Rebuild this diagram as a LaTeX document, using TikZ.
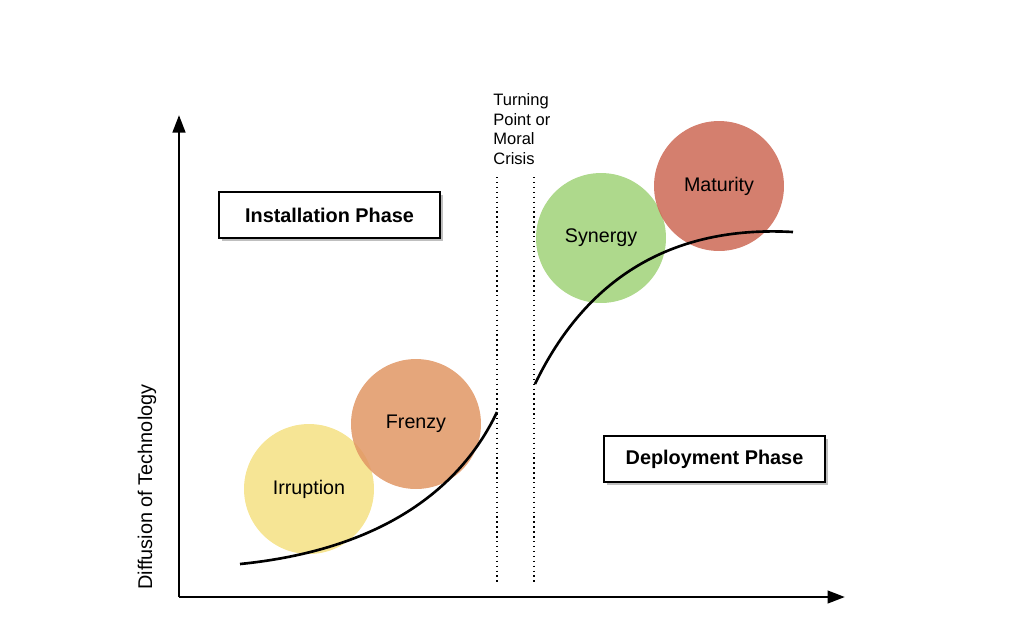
\documentclass[tikz,border=0pt]{standalone}
\usepackage{fontspec}
\setmainfont{Liberation Sans}
\usetikzlibrary{shadows,arrows.meta}
\tikzset{phase/.style={
    draw, fill=white, line width=0.8pt, minimum width=4.42cm,
    minimum height=0.92cm, font=\bfseries\fontsize{11.3}{13}\selectfont,
    drop shadow={shadow xshift=0.06cm, shadow yshift=-0.06cm, opacity=0.5}
}}
\tikzset{stage/.style={
    circle, minimum size=2.6cm, inner sep=0pt, opacity=0.85,
    text opacity=1, font=\fontsize{11.2}{13}\selectfont
}}
\tikzset{arrow/.style={-{Triangle[length=0.35cm,width=0.25cm]}, line width=1.6pt}}

\begin{document}
\begin{tikzpicture}[x=0.02cm, y=-0.02cm]
        \useasboundingbox (0,0) rectangle (1024,630);

        \coordinate (origin) at (179,597);
        \coordinate (ytip) at (179,115);
        \coordinate (xtip) at (845,597);

        \node[stage, fill={rgb,255:red,245;green,225;blue,130}]
            (irruption) at (309,489) {Irruption};
        \node[stage, fill={rgb,255:red,225;green,150;blue,100}]
            (frenzy) at (416,424) {Frenzy};
        \node[stage, fill={rgb,255:red,160;green,210;blue,120}]
            (synergy) at (601,238) {Synergy};
        \node[stage, fill={rgb,255:red,205;green,105;blue,85}]
            (maturity) at (719,186) {Maturity};

        \draw[line width=1.5pt] (240,564) .. controls (380,550) and (460,490) .. (497,412);
        \draw[line width=1.5pt] (535,384) .. controls (585,280) and (670,225) .. (793,232);

        \draw[dotted, line width=0.8pt] (497,177) -- (497,583);
        \draw[dotted, line width=0.8pt] (534,177) -- (534,583);

        \node[align=left, anchor=north west, inner sep=0pt,
              font=\fontsize{9.4}{11.2}\selectfont]
            (crisis) at (493,93) {Turning\\Point or\\Moral\\Crisis};

        \node[phase] (installation) at (329.5,215) {Installation Phase};
        \node[phase] (deployment) at (714.5,459) {Deployment Phase};

        \node[rotate=90, font=\fontsize{11.3}{13}\selectfont]
            (ylabel) at (147,487) {Diffusion of Technology};

        \draw[arrow] (origin) -- (ytip);
        \draw[arrow] (origin) -- (xtip);

    \end{tikzpicture}
\end{document}
